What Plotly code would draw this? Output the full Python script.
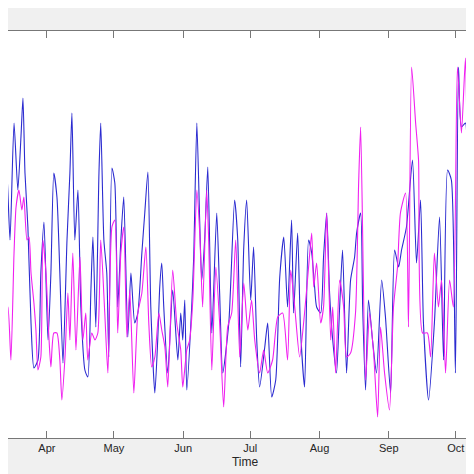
import pandas as pd
import plotly.graph_objects as go

start = pd.Timestamp("2015-03-11")

# blue series: (day offset from start, value)
blue_day = [0, 1.3, 3.1, 4.5, 6.3, 8, 9.4, 10.3, 11.2, 12.5, 13.9, 15.2, 17, 18.3, 19.7, 21.5, 22.8, 24.1,
            25.5, 26.8, 28.2, 30, 31.3, 32.2, 33.5, 34.9, 36.2, 38, 39.3, 40.7, 41.6, 42.9, 44.3, 45.1, 46.5,
            47.8, 48.7, 50.1, 51.4, 52.7, 54.1, 55.4, 57.2, 58.6, 60.3, 61.7, 63.5, 64.8, 66.2, 67.5, 69.3,
            70.6, 71.5, 72.4, 73.3, 75.1, 77.3, 79.6, 80.9, 81.8, 82.7, 83.6, 85.8, 86.7, 88.1, 89.4, 90.3,
            91.6, 93, 94.8, 97, 98.3, 99.7, 102.4, 105, 106.4, 107.7, 109.1, 110.4, 112.2, 113.5, 114.9, 116.2,
            118.5, 119.8, 121.6, 123.4, 125.2, 127, 128.7, 130.5, 131.4, 133.2, 134.5, 136.3, 138.1, 139.5,
            140.8, 141.7, 143.5, 144.8, 146.2, 147.5, 148.9, 150.6, 152, 153.3, 155.1, 156.9, 158.7, 159.6,
            161.4, 162.3, 163.6, 164.9, 166.7, 168.5, 170.8, 172.5, 174.8, 176.6, 178.4, 179.7, 181.9, 184.6,
            186.4, 188.2, 189.5, 191.8, 194.4, 196.7, 198.5, 200.3, 202, 203.8, 205.2, 206.5, 208.3, 209.2, 211,
            213.5]
blue_val = [98, 108, 266, 198, 315, 248, 301, 340, 265, 211, 115, 70, 78, 165, 216, 98, 165, 265,
            241, 165, 75, 198, 265, 325, 198, 248, 131, 68, 61, 148, 201, 111, 265, 315, 198,
            165, 81, 270, 255, 131, 198, 241, 101, 165, 115, 125, 185, 225, 266, 131, 45,
            98, 151, 175, 131, 65, 148, 78, 125, 98, 138, 48, 131, 181, 315, 215, 158,
            198, 271, 105, 225, 145, 65, 115, 238, 198, 71, 191, 238, 138, 191, 98, 51,
            91, 115, 41, 58, 161, 201, 131, 218, 125, 205, 108, 51, 198, 185,
            151, 131, 125, 181, 225, 145, 98, 65, 131, 188, 65, 158, 181, 205,
            225, 131, 48, 138, 98, 65, 158, 121, 45, 188, 171, 188, 211, 278,
            175, 238, 115, 38, 115, 221, 78, 268, 258, 65, 371, 311, 315, 211, 191,
            150]

# magenta series
mag_day = [0, 1.3, 2.7, 3.6, 4.9, 6.3, 7.2, 8.5, 9.8, 10.7, 12.1, 13, 13.9, 15.2, 16.1, 17, 18.3, 19.2,
           20.6, 21.9, 22.8, 24.1, 25.5, 26.8, 27.7, 29.1, 30.4, 31.3, 32.6, 34, 35.8, 37.1, 38.4, 39.3,
           41.1, 42.5, 43.8, 45.1, 46.9, 48.3, 50.1, 51.4, 52.7, 54.1, 55.4, 56.8, 58.1, 59.9, 61.7, 63.5,
           65.3, 66.6, 67.9, 69.3, 71.1, 72.4, 73.8, 75.1, 77.3, 79.1, 80.9, 81.8, 83.6, 84.9, 86.3, 88.1,
           89.4, 90.7, 92.5, 93.4, 94.8, 96.6, 98.3, 100.1, 101.9, 103.7, 105.5, 107.3, 109.1, 110.9, 112.6,
           114, 116.2, 118, 119.8, 122, 124.3, 126.5, 128.7, 130.1, 131.9, 134.1, 136.3, 138.1, 139.5, 140.4,
           141.7, 143.5, 144.8, 146.2, 148, 148.9, 150.2, 152, 153.8, 155.1, 156.9, 159.1, 160.5, 161.4,
           163.6, 165.4, 167.2, 169, 170.3, 172.1, 174.3, 176.1, 177.9, 179.2, 181.5, 182.8, 184.2, 186,
           187.3, 189.1, 191.3, 192.7, 194.4, 196.2, 197.6, 199.4, 201.2, 202.9, 204.7, 206.5, 208.3, 209.6, 210.5,
           213.5]
mag_val = [85, 78, 125, 131, 78, 185, 231, 248, 228, 241, 198, 201, 165, 135, 108, 68, 81, 198,
           165, 101, 71, 105, 105, 78, 38, 81, 145, 98, 185, 88, 181, 98, 125, 78,
           105, 98, 105, 198, 125, 65, 211, 218, 105, 185, 211, 101, 148, 45, 125, 145,
           191, 115, 71, 81, 125, 108, 91, 51, 168, 115, 88, 51, 88, 98, 138, 248,
           205, 131, 248, 198, 68, 171, 115, 31, 111, 125, 198, 81, 155, 108, 138,
           98, 65, 88, 65, 78, 121, 125, 78, 168, 131, 81, 125, 171, 205, 151,
           175, 115, 131, 225, 98, 131, 65, 158, 131, 81, 85, 125, 255, 311,
           58, 125, 85, 21, 111, 65, 28, 131, 171, 225, 245, 111, 371, 315,
           278, 105, 105, 81, 185, 131, 158, 65, 158, 131, 371, 305, 380, 231, 258,
           140]

month_ticks = ["2015-04-01", "2015-05-01", "2015-06-01", "2015-07-01", "2015-08-01", "2015-09-01", "2015-10-01"]
month_labels = ["Apr", "May", "Jun", "Jul", "Aug", "Sep", "Oct"]

blue_x = [start + pd.Timedelta(days=d) for d in blue_day]
mag_x = [start + pd.Timedelta(days=d) for d in mag_day]

fig = go.Figure()
fig.add_trace(go.Scatter(x=blue_x, y=blue_val, mode="lines",
                         line=dict(color="#2b2bd0", width=1.1, shape="spline", smoothing=0.6)))
fig.add_trace(go.Scatter(x=mag_x, y=mag_val, mode="lines",
                         line=dict(color="#f020f0", width=1.1, shape="spline", smoothing=0.6)))

# page has an 8px body margin, so the visible window starts a bit into the series
fig.update_layout(
    width=474, height=474,
    paper_bgcolor="#f0f0f0", plot_bgcolor="white",
    showlegend=False,
    margin=dict(l=0, r=0, t=23, b=44, autoexpand=False),
    font=dict(family="Liberation Sans, Arial", size=11, color="#262626"),
)
fig.update_xaxes(
    range=[start + pd.Timedelta(days=3.6), start + pd.Timedelta(days=3.6 + 212.1)],
    tickvals=month_ticks, ticktext=month_labels,
    ticks="inside", ticklen=7, tickcolor="#777", showgrid=False,
    showline=True, linecolor="#777", mirror="ticks",
    title=dict(text="Time", standoff=4, font=dict(size=12)),
)
fig.update_yaxes(range=[0, 407], visible=False)

fig.write_html("out.html")
